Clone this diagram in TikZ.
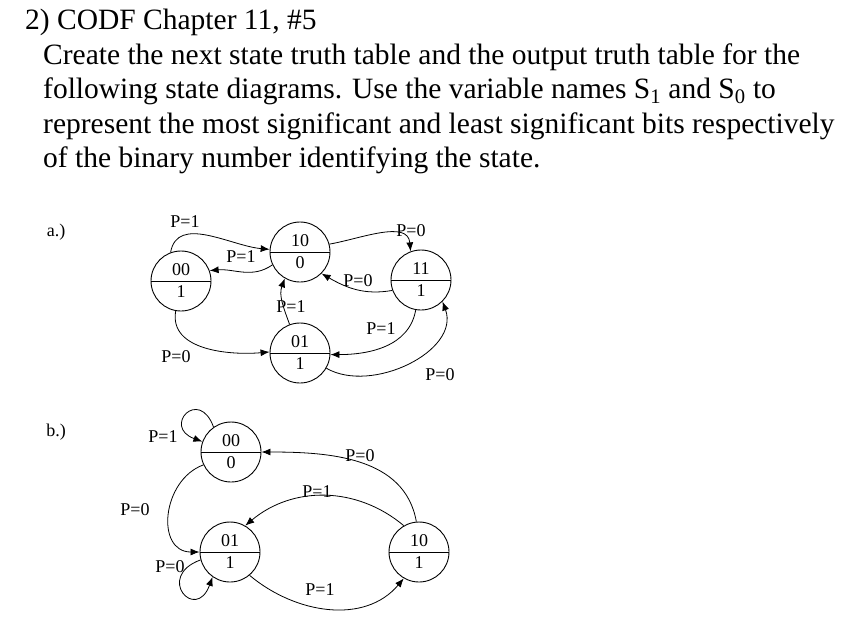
\documentclass[tikz,border=0pt]{standalone}
\usepackage{fontspec}
\setmainfont{Liberation Serif}
\usetikzlibrary{arrows.meta}
\newcommand\mystate[4]{%
  \node[stc] (#1) at (#2) {};
  \draw[line width=0.9pt] (#1.west) -- (#1.east);
  \node[lb] (#1t) at ([yshift=11pt]#1.center) {#3};
  \node[lb] (#1b) at ([yshift=-11pt]#1.center) {#4};}
\begin{document}
\begin{tikzpicture}[x=1pt,y=-1pt,
  stc/.style={circle,draw,line width=0.9pt,minimum size=60pt,inner sep=0pt},
  lb/.style={font=\fontsize{18}{18}\selectfont,inner sep=1pt},
  tr/.style={draw,line width=0.8pt,-{Latex[length=9pt,width=7pt]}}]
\useasboundingbox (0,0) rectangle (864,633);
\node[anchor=north west,align=left,inner sep=0pt,font=\fontsize{29.5}{34.5}\selectfont] (hdr) at (25,9)
 {2) CODF Chapter 11, \#5\\
 \hspace*{18pt}Create the next state truth table and the output truth table for the\\
 \hspace*{18pt}following state diagrams. Use the variable names S\textsubscript{1} and S\textsubscript{0} to\\
 \hspace*{18pt}represent the most significant and least significant bits respectively\\
 \hspace*{18pt}of the binary number identifying the state.};
\node[lb] (la) at (56,232) {a.)};
\node[lb] (lbb) at (56,432) {b.)};
% diagram a
\mystate{a00}{181,281}{00}{1}
\mystate{a10}{300,252}{10}{0}
\mystate{a11}{421,280}{11}{1}
\mystate{a01}{300,353}{01}{1}
\path[tr] (a00.110) to[out=80,in=175] (a10.175);
\path[tr] (a10.205) to[out=215,in=5] (a00.20);
\path[tr] (a10.15) to[out=10,in=95] (a11.110);
\path[tr] (a11.200) to[out=190,in=-30] (a10.-45);
\path[tr] (a01.110) to[out=110,in=250] (a10.240);
\path[tr] (a00.-100) to[out=-100,in=185] (a01.178);
\path[tr] (a11.-100) to[out=-100,in=0] (a01.-3);
\path[tr] (a01.-30) to[out=-30,in=-70] (a11.-45);
\node[lb] at (185,222) {P=1};
\node[lb] at (241,257) {P=1};
\node[lb] at (411,231) {P=0};
\node[lb] at (358,281) {P=0};
\node[lb] at (291,307) {P=1};
\node[lb] at (176,357) {P=0};
\node[lb] at (381,329) {P=1};
\node[lb] at (440,375) {P=0};
% diagram b
\mystate{b00}{231,452}{00}{0}
\mystate{b01}{230,552}{01}{1}
\mystate{b10}{419,552}{10}{1}
\path[tr] (b00.125) to[out=110,in=160,looseness=6] (b00.160);
\path[tr] (b10.95) to[out=100,in=0] (b00.0);
\path[tr] (b00.205) to[out=200,in=180,looseness=1.3] (b01.180);
\path[tr] (b10.120) to[out=140,in=40] (b01.60);
\path[tr] (b01.195) to[out=200,in=250,looseness=6] (b01.235);
\path[tr] (b01.-50) to[out=-40,in=-130] (b10.-120);
\node[lb] at (163,437) {P=1};
\node[lb] at (360,456) {P=0};
\node[lb] at (135,510) {P=0};
\node[lb] at (317,492) {P=1};
\node[lb] at (170,567) {P=0};
\node[lb] at (320,590) {P=1};
\end{tikzpicture}
\end{document}
